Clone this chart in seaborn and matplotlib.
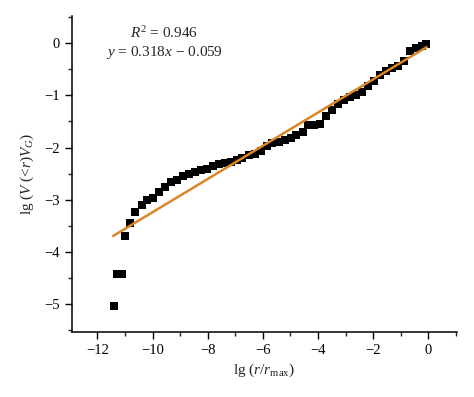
import matplotlib
matplotlib.use("Agg")
import matplotlib.pyplot as plt
import seaborn as sns
import pandas as pd
from matplotlib.ticker import MultipleLocator

# Data
lg_r = [-11.39, -11.28, -11.12, -10.99, -10.83, -10.62, -10.40, -10.19, -9.98, -9.77,
        -9.55, -9.33, -9.12, -8.90, -8.68, -8.46, -8.25, -8.03, -7.81, -7.59,
        -7.38, -7.16, -6.95, -6.74, -6.52, -6.30, -6.08, -5.86, -5.65, -5.43,
        -5.21, -4.99, -4.78, -4.56, -4.35, -4.14, -3.92, -3.70, -3.48, -3.26,
        -3.05, -2.83, -2.61, -2.39, -2.18, -1.96, -1.74, -1.52, -1.31, -1.09,
        -0.87, -0.67, -0.45, -0.24, -0.08]
lg_v = [-5.04, -4.43, -4.43, -3.70, -3.44, -3.23, -3.11, -3.00, -2.96, -2.86,
        -2.75, -2.66, -2.62, -2.54, -2.51, -2.47, -2.43, -2.41, -2.36, -2.32,
        -2.30, -2.27, -2.24, -2.20, -2.15, -2.12, -2.07, -1.97, -1.92, -1.89,
        -1.85, -1.81, -1.76, -1.70, -1.56, -1.56, -1.55, -1.40, -1.28, -1.17,
        -1.09, -1.03, -0.99, -0.93, -0.82, -0.72, -0.61, -0.53, -0.48, -0.43,
        -0.35, -0.16, -0.10, -0.05, -0.01]
slope = 0.318
intercept = -0.059
fit_range = [-11.43, -0.06]
x_ticks = [-12, -10, -8, -6, -4, -2, 0]
y_ticks = [-5, -4, -3, -2, -1, 0]

sns.set_style("white")
plt.rcParams['font.family'] = ['Liberation Serif', 'DejaVu Serif']
plt.rcParams['mathtext.fontset'] = 'custom'
plt.rcParams['mathtext.rm'] = 'Liberation Serif'
plt.rcParams['mathtext.it'] = 'Liberation Serif:italic'
plt.rcParams['mathtext.bf'] = 'Liberation Serif:bold'

pts = pd.DataFrame({"x": lg_r, "y": lg_v})
fit = pd.DataFrame({"x": fit_range, "y": [slope * v + intercept for v in fit_range]})

fig = plt.figure(figsize=(4.74, 3.97), dpi=100)
ax = fig.add_axes([0.152, 0.164, 0.812, 0.796])

sns.scatterplot(data=pts, x="x", y="y", marker="s", s=36, color="black",
                linewidth=0, ax=ax, zorder=2)
sns.lineplot(data=fit, x="x", y="y", color="#DB8529", linewidth=1.8, ax=ax, zorder=3)

ax.set_xlim(-12.92, 1.04)
ax.set_ylim(-5.53, 0.52)
ax.set_xticks(x_ticks)
ax.set_yticks(y_ticks)
ax.xaxis.set_minor_locator(MultipleLocator(1))
ax.yaxis.set_minor_locator(MultipleLocator(0.5))
ax.tick_params(which="major", direction="out", length=5, width=1, labelsize=10.5,
               bottom=True, left=True, colors="black", pad=4)
ax.tick_params(which="minor", direction="out", length=3, width=1, bottom=True, left=True)

for s in ["top", "right"]:
    ax.spines[s].set_visible(False)
for s in ["left", "bottom"]:
    ax.spines[s].set_color("black")
    ax.spines[s].set_linewidth(1.1)

ax.set_xlabel(r"lg ($r$/$r_{\mathrm{max}}$)", fontsize=11, labelpad=3)
ax.set_ylabel(r"lg ($V$ (<$r$)$V_{G}$)", fontsize=11, labelpad=6)

ax.text(-9.6, 0.19, r"$R^{2}$ = 0.946", ha="center", va="center", fontsize=11)
ax.text(-9.6, -0.19, r"$y$ = 0.318$x$ − 0.059", ha="center", va="center", fontsize=11)

fig.savefig("out.png", dpi=100)
